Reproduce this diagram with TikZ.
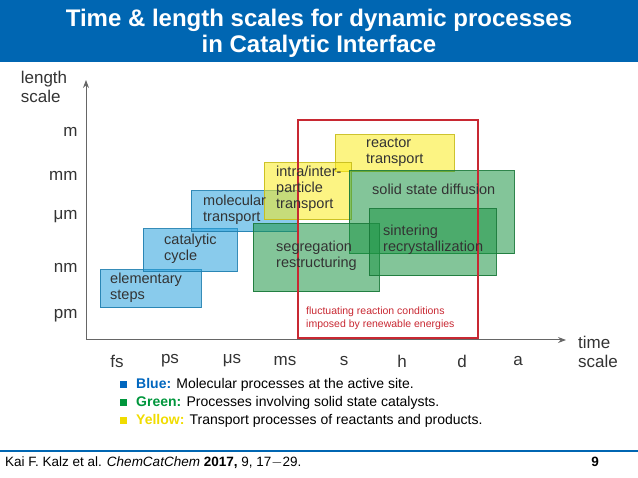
\documentclass[tikz,border=0pt]{standalone}
\usepackage{fontspec}
\setmainfont{Liberation Sans}
\usetikzlibrary{arrows.meta}
\definecolor{tbar}{RGB}{0,102,178}
\definecolor{bbox}{RGB}{40,160,220}
\definecolor{gbox}{RGB}{30,150,70}
\definecolor{ybox}{RGB}{250,235,30}
\definecolor{rbox}{RGB}{200,40,50}
\definecolor{lblue}{RGB}{0,102,190}
\definecolor{lgreen}{RGB}{0,150,60}
\definecolor{lyellow}{RGB}{240,220,0}
\tikzset{
 box/.style={draw=#1!80!black, fill=#1, fill opacity=0.55, draw opacity=0.9, line width=1pt},
 lbl/.style={align=left, anchor=north west, font=\fontsize{14.5}{16}\selectfont, text=black!80, inner sep=0},
 ax/.style={font=\fontsize{17}{19}\selectfont, text=black!80},
}
\begin{document}
\begin{tikzpicture}[x=1pt,y=-1pt]
\useasboundingbox (0,0) rectangle (638,478);
\fill[tbar] (0,0) rectangle (638,62);
\node[text=white, font=\bfseries\fontsize{24}{26}\selectfont, align=center] (title) at (319,33) {Time \& length scales for dynamic processes\\in Catalytic Interface};
% axes
\coordinate (o) at (86,340);
\coordinate (ytop) at (86,80);
\coordinate (xend) at (566,340);
\draw[black!60, line width=1pt, -{Stealth[length=8pt]}] (o) -- (ytop);
\draw[black!60, line width=1pt, -{Stealth[length=8pt]}] (o) -- (xend);
\node[ax, align=left] (ls) at (44,87) {length\\scale};
\node[ax, align=left] (ts) at (598,352) {time\\scale};
\foreach \t/\y in {m/132,mm/176,μm/217,nm/268,pm/316} \node[ax, anchor=east] at (81,\y) {\t};
\foreach \t/\x in {fs/117,ps/170,μs/232,ms/285,s/344,h/402,d/462,a/518} \node[ax] at (\x,361) {\t};
% boxes
\draw[box=bbox] (100,270) rectangle (201,308);
\draw[box=bbox] (143,229) rectangle (237,272);
\draw[box=bbox] (191,191) rectangle (298,232);
\draw[box=ybox] (335,135) rectangle (454,172);
\draw[box=ybox] (264,163) rectangle (351,220);
\draw[box=gbox] (349,171) rectangle (514,254);
\draw[box=gbox] (253,224) rectangle (379,292);
\draw[box=gbox] (369,209) rectangle (496,276);
\draw[rbox, line width=1.2pt] (298,120) rectangle (478,338);
\node[lbl] (es) at (110,273) {elementary\\steps};
\node[lbl] (cc) at (164,234) {catalytic\\cycle};
\node[lbl] (mt) at (203,195) {molecular\\transport};
\node[lbl] (rt) at (366,138) {reactor\\transport};
\node[lbl] (it) at (276,166) {intra/inter-\\particle\\transport};
\node[lbl] (sd) at (372,184) {solid state diffusion};
\node[lbl] (sr) at (383,225) {sintering\\recrystallization};
\node[lbl] (sg) at (276,241) {segregation\\restructuring};
\node[lbl, text=rbox, font=\fontsize{10.5}{12.5}\selectfont] (fl) at (306,307) {fluctuating reaction conditions\\imposed by renewable energies};
% legend
\foreach \c/\y in {lblue/385,lgreen/403,lyellow/421} \fill[\c] (120,\y-3.5) rectangle (127,\y+3.5);
\node[anchor=west, font=\fontsize{14}{14}\selectfont, inner sep=0] (b1) at (136,385) {\textcolor{lblue}{\bfseries Blue:} Molecular processes at the active site.};
\node[anchor=west, font=\fontsize{14}{14}\selectfont, inner sep=0] (b2) at (136,403) {\textcolor{lgreen}{\bfseries Green:} Processes involving solid state catalysts.};
\node[anchor=west, font=\fontsize{14}{14}\selectfont, inner sep=0] (b3) at (136,421) {\textcolor{lyellow}{\bfseries Yellow:} Transport processes of reactants and products.};
% footer
\draw[tbar, line width=1.5pt] (0,451) -- (638,451);
\node[anchor=west, font=\fontsize{13.5}{14}\selectfont, inner sep=0] (ref) at (5,463) {Kai F. Kalz et al. \textit{ChemCatChem} \textbf{2017,} 9, 17$-$29.};
\node[font=\bfseries\fontsize{13.5}{14}\selectfont, inner sep=0] (pg) at (595,462) {9};
\end{tikzpicture}
\end{document}
